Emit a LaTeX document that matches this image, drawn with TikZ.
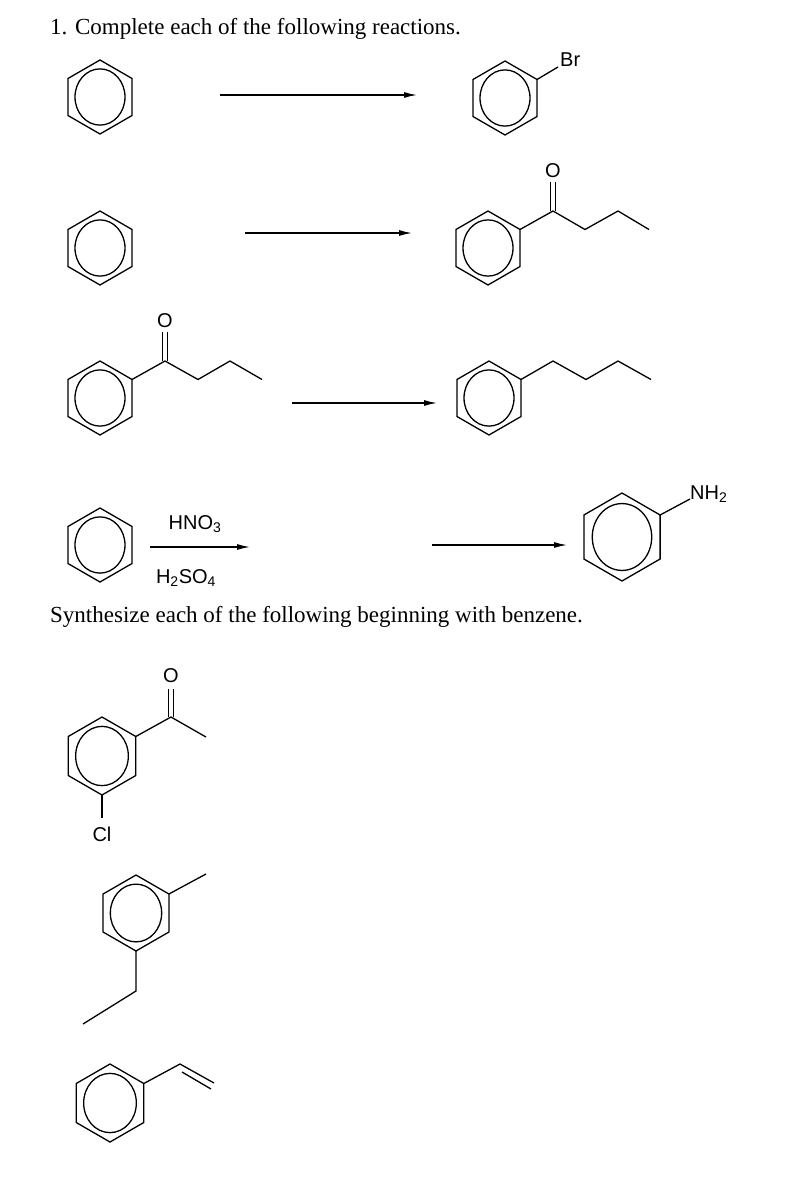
\documentclass[tikz,border=0pt]{standalone}
\usepackage{fontspec}
\setmainfont{Liberation Serif}
\newfontfamily\atomf{Liberation Sans}
\newcommand\benz[3][37]{%
  \draw[bond] (#2,#3) ++(90:#1) -- ++(-30:#1) -- ++(-90:#1) -- ++(-150:#1) -- ++(150:#1) -- ++(90:#1) -- cycle;
  \draw[bond] (#2,#3) circle[x radius={0.78*#1*0.866}, y radius={0.76*#1}];}
\tikzset{bond/.style={line width=1.3pt, line join=miter},
  rxn/.style={line width=1.3pt, -{Latex[length=13pt,width=6pt]}},
  atom/.style={font=\atomf\fontsize{20}{23}\selectfont, inner sep=1pt},
  head/.style={font=\fontsize{23}{27}\selectfont, anchor=base west, inner sep=0pt}}
\usetikzlibrary{arrows.meta}
\begin{document}
\begin{tikzpicture}[x=1pt,y=-1pt]
\useasboundingbox (0,0) rectangle (802,1196);
\fill[white] (0,0) rectangle (802,1196);
\node[head] (t1) at (50,35) {1. Complete each of the following reactions.};
% row 1
\benz{100}{97}
\coordinate (a1s) at (220,95); \coordinate (a1e) at (417,95);
\draw[rxn] (a1s) -- (a1e);
\benz{505}{98}
\node[atom,anchor=west] (br) at (559,60) {Br};
\draw[bond] (537,79.5) -- (558,67);
% row 2
\benz{100}{248}
\coordinate (a2s) at (245,233); \coordinate (a2e) at (412,233);
\draw[rxn] (a2s) -- (a2e);
\benz{488}{248}
\draw[bond] (520,229.5) -- (553,211) -- (585,229.5) -- (618,211) -- (649,229.5);
\node[atom] (o2) at (553,171) {O};
\draw[bond] (550.5,211) -- (550.5,182); \draw[bond] (555.5,211) -- (555.5,182);
% row 3
\benz{100}{398}
\draw[bond] (132,379.5) -- (165,361) -- (198,379.5) -- (230,361) -- (262,379.5);
\node[atom] (o3) at (165,321) {O};
\draw[bond] (162.5,361) -- (162.5,332); \draw[bond] (167.5,361) -- (167.5,332);
\coordinate (a3s) at (292,403); \coordinate (a3e) at (437,403);
\draw[rxn] (a3s) -- (a3e);
\benz{489}{398}
\draw[bond] (521,379.5) -- (553,361) -- (586,379.5) -- (618,361) -- (651,379.5);
% row 4
\benz{100}{545}
\coordinate (a4s) at (150,547); \coordinate (a4e) at (250,547);
\draw[rxn] (a4s) -- (a4e);
\node[atom] (hno3) at (195,524) {HNO\textsubscript{3}};
\node[atom] (h2so4) at (186,578) {H\textsubscript{2}SO\textsubscript{4}};
\coordinate (a5s) at (432,545); \coordinate (a5e) at (567,545);
\draw[rxn] (a5s) -- (a5e);
\benz[44]{622}{537}
\node[atom,anchor=west] (nh2) at (689,494) {NH\textsubscript{2}};
\draw[bond] (660.1,515) -- (690,499);
\node[head] (t2) at (50,622) {Synthesize each of the following beginning with benzene.};
% target 1
\benz[39]{102}{756}
\draw[bond] (135.8,736.5) -- (171,717) -- (206,737);
\draw[bond] (168.5,717) -- (168.5,689); \draw[bond] (173.5,717) -- (173.5,689);
\node[atom] (o5) at (171,676) {O};
\draw[bond] (102,795) -- (102,818);
\node[atom] (cl) at (102,834) {Cl};
% target 2
\benz[38]{136}{913}
\draw[bond] (168.9,894) -- (206,874);
\draw[bond] (136,951) -- (136,991) -- (83,1024);
% target 3
\benz[39]{110}{1103}
\draw[bond] (143.8,1083.5) -- (180,1064) -- (214,1083);
\draw[bond] (182,1072) -- (211,1089);
\end{tikzpicture}
\end{document}
